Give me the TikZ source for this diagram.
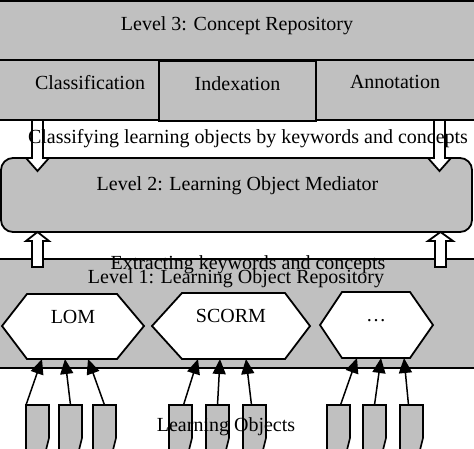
\documentclass[tikz,border=0pt]{standalone}
\usepackage{fontspec}
\setmainfont{Liberation Serif}
\usetikzlibrary{arrows.meta,calc}
\definecolor{boxgray}{RGB}{192,192,192}
\begin{document}
\begin{tikzpicture}[x=1pt,y=-1pt,
  levelbox/.style={draw=black,fill=boxgray,line width=1.8pt,anchor=north west,inner sep=0pt,outer sep=0pt},
  txt/.style={font=\fontsize{20}{24}\selectfont,inner sep=0pt,anchor=base},
  blockarrow/.style={draw=black,fill=white,line width=1.8pt,line join=miter},
  hexa/.style={draw=black,fill=white,line width=1.8pt},
  docn/.style={anchor=north west,minimum width=23pt,minimum height=45pt,inner sep=0pt,outer sep=0pt},
  docline/.style={draw=black,fill=boxgray,line width=1.6pt},
  feed/.style={draw=black,line width=1.5pt,-{Triangle[length=15pt,width=13pt]}}
]
\useasboundingbox (0,0) rectangle (474,448);
\fill[white] (0,0) rectangle (474,448);
\clip (0,0) rectangle (474,448);

% Level 3
\node[levelbox,minimum width=480pt,minimum height=59pt] (l3) at (-3,1) {};
\node[levelbox,minimum width=162pt,minimum height=60pt] (cls) at (-3,60) {};
\node[levelbox,minimum width=161pt,minimum height=60pt] (ann) at (316,60) {};
\node[levelbox,minimum width=157pt,minimum height=60pt] (idx) at (159,61) {};

% Level 2
\node[levelbox,rounded corners=12pt,minimum width=471pt,minimum height=74pt] (l2) at (1,158) {};
% Level 1
\node[levelbox,minimum width=480pt,minimum height=109pt] (l1) at (-3,259) {};

% block arrows
\draw[blockarrow] (32,120) -- (43,120) -- (43,158) -- (49,158) -- (37.5,171) -- (26,158) -- (32,158) -- cycle;
\draw[blockarrow] (434,120) -- (445,120) -- (445,158) -- (451,158) -- (439.5,171) -- (428,158) -- (434,158) -- cycle;
\draw[blockarrow] (32,267) -- (43,267) -- (43,241) -- (49,241) -- (37.5,232) -- (26,241) -- (32,241) -- cycle;
\draw[blockarrow] (435,267) -- (446,267) -- (446,241) -- (453,241) -- (440.5,232) -- (428,241) -- (435,241) -- cycle;

% texts
\node[txt] (t3) at (237,30) {Level 3: Concept Repository};
\node[txt] (tc) at (90,89) {Classification};
\node[txt] (ti) at (237.5,90) {Indexation};
\node[txt] (ta) at (395,88) {Annotation};
\node[txt] (tcl) at (248,143) {Classifying learning objects by keywords and concepts};
\node[txt] (t2) at (237.5,190) {Level 2: Learning Object Mediator};
\node[txt] (te) at (248,269) {Extracting keywords and concepts};
\node[txt] (t1) at (236,283) {Level 1: Learning Object Repository};

% hexagons
\draw[hexa] (2,326) -- (27,294) -- (117,294) -- (144,326) -- (117,359) -- (27,359) -- cycle;
\draw[hexa] (152,326) -- (182,293) -- (285,293) -- (310,326) -- (285,359) -- (182,359) -- cycle;
\draw[hexa] (320,325) -- (342,292) -- (410,292) -- (433,325) -- (410,358) -- (342,358) -- cycle;
\node[txt] (tlom) at (73,323) {LOM};
\node[txt] (tscorm) at (231,322) {SCORM};
\node[txt] (tdots) at (376,321) {…};

\coordinate (h11) at (42,359);
\coordinate (h12) at (65,359);
\coordinate (h13) at (88,359);
\coordinate (h21) at (198,359);
\coordinate (h22) at (220,359);
\coordinate (h23) at (246,359);
\coordinate (h31) at (357,358);
\coordinate (h32) at (381,358);
\coordinate (h33) at (404,358);

% learning object documents
\foreach \n/\x in {a1/26,a2/59,a3/93,b1/169,b2/206,b3/243,c1/327,c2/363,c3/400}{
  \node[docn] (\n) at (\x,405) {};
  \draw[docline] (\n.north west) -- (\n.north east) -- ($(\n.north east)+(0,33)$)
     -- ($(\n.north east)+(-3,45)$) -- ($(\n.north west)+(0,45)$) -- cycle;
}

% feeding arrows
\draw[feed] (a1.north west) -- (h11);
\draw[feed] (a2.north) -- (h12);
\draw[feed] (a3.north) -- (h13);
\draw[feed] ($(b1.north)+(3,0)$) -- (h21);
\draw[feed] (b2.north) -- (h22);
\draw[feed] ($(b3.north)+(-3,0)$) -- (h23);
\draw[feed] ($(c1.north)+(2,0)$) -- (h31);
\draw[feed] (c2.north) -- (h32);
\draw[feed] ($(c3.north)+(-3,0)$) -- (h33);

\node[txt] (tlo) at (226,431) {Learning Objects};
\end{tikzpicture}
\end{document}
